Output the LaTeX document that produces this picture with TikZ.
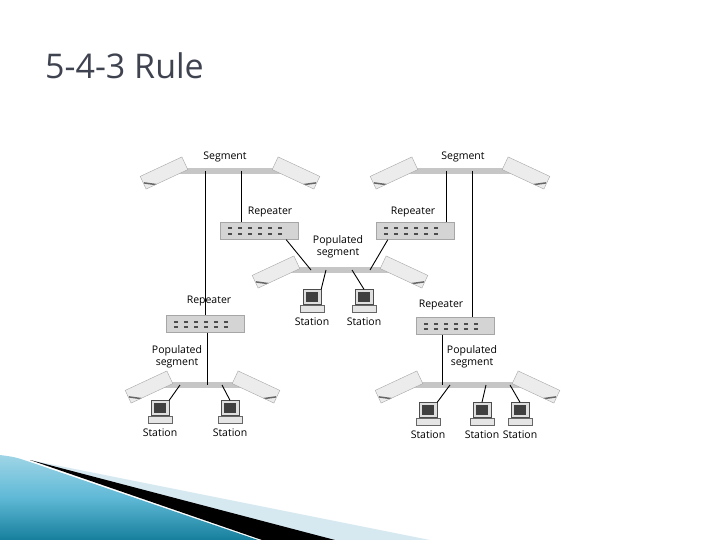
\documentclass[tikz,border=0pt]{standalone}
\usepackage{fontspec}
\setmainfont{Open Sans}
\usetikzlibrary{positioning,calc}
\definecolor{ttl}{HTML}{3f4350}
\definecolor{teal1}{HTML}{167f9c}
\definecolor{teal2}{HTML}{5fb9d6}
\definecolor{pale}{HTML}{d6e8f0}
\definecolor{hub}{HTML}{d4d4d4}
\tikzset{
    lbl/.style={font=\fontsize{10.5}{11.5}\selectfont, align=center, inner sep=1pt},
    wire/.style={black, line width=0.9pt},
    bar/.style={line width=6pt, gray!45},
    term/.style={draw=gray!70, fill=gray!15, minimum width=46pt, minimum height=14pt, inner sep=0pt,
        path picture={\draw[black!60, line width=1.5pt] ([shift={(6pt,4pt)}]path picture bounding box.south west) -- ([shift={(-6pt,4pt)}]path picture bounding box.south east);}},
    rptr/.style={draw=gray!70, fill=hub, minimum width=78pt, minimum height=17pt, inner sep=0pt,
        path picture={\foreach \i in {0,...,5} {\fill[black!70] ([xshift=8pt+\i*10pt, yshift=-5pt]path picture bounding box.north west) rectangle ++(4pt,-2pt);
            \fill[black!70] ([xshift=8pt+\i*10pt, yshift=-10pt]path picture bounding box.north west) rectangle ++(4pt,-2pt);}}},
    pc/.style={draw=black!70, fill=gray!25, minimum width=18pt, minimum height=15pt, inner sep=0pt,
        path picture={\fill[black!75] ([shift={(3pt,-2pt)}]path picture bounding box.north west) rectangle ([shift={(-3pt,3pt)}]path picture bounding box.south east);}},
    pcbase/.style={draw=black!60, fill=gray!20, minimum width=24pt, minimum height=7pt, inner sep=0pt}
}
% one segment: bar between two angled terminators
\newcommand{\cable}[4]{% name, x left, x right, y
    \coordinate (#1w) at (#2,#4);
    \coordinate (#1e) at (#3,#4);
    \draw[bar] (#1w) -- (#1e);
    \node[term, rotate=25] (#1lt) at ($(#1w)+(-6,2)$) {};
    \node[term, rotate=-25] (#1rt) at ($(#1e)+(6,2)$) {};
}
\newcommand{\station}[3]{% name, x, y
    \node[pc] (#1) at (#2,#3) {};
    \node[pcbase, below=0pt of #1] (#1b) {};
    \node[lbl, below=4pt of #1b] (#1t) {Station};
}
\begin{document}
\begin{tikzpicture}[x=1pt, y=-1pt]
    \useasboundingbox (0,0) rectangle (720,540);
    % title
    \node[anchor=base west, text=ttl, font=\fontsize{34}{36}\selectfont, inner sep=0pt] (title) at (45,79) {5-4-3 Rule};

    % segments
    \cable{sa}{170}{290}{171}
    \cable{sb}{400}{520}{171}
    \cable{sc}{282}{398}{270}
    \cable{sd}{155}{250}{385}
    \cable{se}{405}{530}{385}
    \node[lbl] (sat) at (225,157) {Segment};
    \node[lbl] (sbt) at (463,157) {Segment};
    \node[lbl] (sct) at (338,247) {Populated\\segment};
    \node[lbl] (sdt) at (177,357) {Populated\\segment};
    \node[lbl] (set) at (472,357) {Populated\\segment};

    % repeaters
    \node[rptr] (ra) at (259,231) {};
    \node[rptr] (rb) at (415,231) {};
    \node[rptr] (rc) at (205,324) {};
    \node[rptr] (rd) at (455,326) {};
    \node[lbl] (rat) at (270,212) {Repeater};
    \node[lbl] (rbt) at (413,212) {Repeater};
    \node[lbl] (rct) at (209,301) {Repeater};
    \node[lbl] (rdt) at (441,305) {Repeater};

    % taps
    \coordinate (ta1) at (205,171);
    \coordinate (ta2) at (241,171);
    \coordinate (tb1) at (446,171);
    \coordinate (tb2) at (472,171);
    \coordinate (tc1) at (311,270);
    \coordinate (tc2) at (370,270);
    \coordinate (td) at (207,385);
    \coordinate (te) at (442,385);
    \draw[wire] (ta1) -- (ta1 |- rc.north);
    \draw[wire] (rc.south -| td) -- (td);
    \draw[wire] (ta2) -- (ta2 |- ra.north);
    \draw[wire] ([xshift=-12pt]ra.south east) -- (tc1);
    \draw[wire] (tb1) -- (tb1 |- rb.north);
    \draw[wire] ([xshift=12pt]rb.south west) -- (tc2);
    \draw[wire] (tb2) -- (tb2 |- rd.north);
    \draw[wire] (rd.south -| te) -- (te);

    % stations
    \station{st1}{312}{297}
    \station{st2}{364}{297}
    \station{st3}{160}{408}
    \station{st4}{230}{408}
    \station{st5}{428}{410}
    \station{st6}{482}{410}
    \station{st7}{520}{410}
    \draw[wire] (326,270) -- (st1.north east);
    \draw[wire] (352,270) -- (st2.north);
    \draw[wire] (180,385) -- (st3.north east);
    \draw[wire] (222,385) -- (st4.north);
    \draw[wire] (450,385) -- (st5.north east);
    \draw[wire] (486,385) -- (st6.north);
    \draw[wire] (510,385) -- (st7.north);

    % corner decoration
    \fill[pale] (30,460) -- (430,540) -- (300,540) -- cycle;
    \fill[black] (30,460) -- (335,540) -- (262,540) -- cycle;
    \shade[top color=teal2!60!white, bottom color=teal1, middle color=teal2] (0,455) .. controls (15,457) .. (30,462) -- (258,540) -- (0,540) -- cycle;
\end{tikzpicture}
\end{document}
